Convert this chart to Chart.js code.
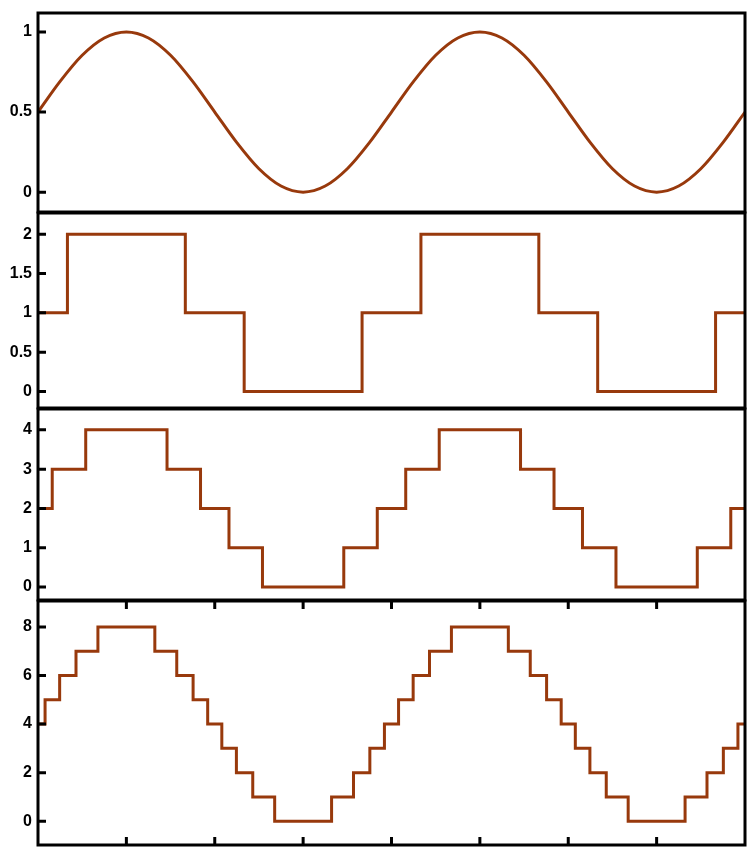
<!DOCTYPE html>
<html>
<head>
<meta charset="utf-8">
<script src="https://cdn.jsdelivr.net/npm/chart.js@4"></script>
<style>
  body { margin: 0; background: #fff; width: 754px; height: 852px; position: relative; overflow: hidden; }
  .panel { position: absolute; left: 0; width: 747px; }
</style>
</head>
<body>
<div class="panel" style="top:11px;height:203px"><canvas id="c1"></canvas></div>
<div class="panel" style="top:211px;height:199px"><canvas id="c2"></canvas></div>
<div class="panel" style="top:407px;height:195px"><canvas id="c3"></canvas></div>
<div class="panel" style="top:599px;height:248px"><canvas id="c4"></canvas></div>
<script>
// x in units of a quarter period (0..8 = two periods)
const sineX = [0,0.5,1,1.5,2,2.5,3,3.5,4,4.5,5,5.5,6,6.5,7,7.5,8,8.5,9,9.5,10,10.5,11,11.5,12,12.5,13,13.5,14,14.5,15,15.5,16].map(v => v / 2);
const sineY = [0.5,0.691,0.854,0.962,1,0.962,0.854,0.691,0.5,0.309,0.146,0.038,0,0.038,0.146,0.309,
               0.5,0.691,0.854,0.962,1,0.962,0.854,0.691,0.5,0.309,0.146,0.038,0,0.038,0.146,0.309,0.5];

const step2X = [0,0.333,1.667,2.333,3.667,4.333,5.667,6.333,7.667,8];
const step2Y = [1,2,1,0,1,2,1,0,1,1];

const step3X = [0,0.161,0.540,1.460,1.839,2.161,2.540,3.460,3.839,4.161,4.540,5.460,5.839,6.161,6.540,7.460,7.839,8];
const step3Y = [2,3,4,3,2,1,0,1,2,3,4,3,2,1,0,1,2,2];

const step4X = [0,0.080,0.245,0.430,0.678,1.322,1.570,1.755,1.920,2.080,2.245,2.430,2.678,3.322,3.570,3.755,3.920,
                4.080,4.245,4.430,4.678,5.322,5.570,5.755,5.920,6.080,6.245,6.430,6.678,7.322,7.570,7.755,7.920,8];
const step4Y = [4,5,6,7,8,7,6,5,4,3,2,1,0,1,2,3,4,5,6,7,8,7,6,5,4,3,2,1,0,1,2,3,4,4];

const xTicks = [1,2,3,4,5,6,7];
const lineColor = '#98390c';

// frame, inward tick marks and y labels
const framePlugin = {
    id: 'frame',
    afterDraw(chart, args, opts) {
        const ctx = chart.ctx, a = chart.chartArea;
        const xs = chart.scales.x, ys = chart.scales.y;
        ctx.save();
        ctx.strokeStyle = '#000';
        ctx.lineWidth = 3;
        ctx.strokeRect(a.left, a.top, a.right - a.left, a.bottom - a.top);
        ctx.fillStyle = '#000';
        ctx.font = 'bold 16px "Liberation Sans", Arial';
        ctx.textAlign = 'right';
        ctx.textBaseline = 'middle';
        ctx.beginPath();
        ys.ticks.forEach(t => {
            const y = ys.getPixelForValue(t.value);
            ctx.moveTo(a.left, y); ctx.lineTo(a.left + 8, y);
            ctx.fillText(String(t.value), a.left - 6, y);
        });
        if (opts.xTicks) {
            xTicks.forEach(v => {
                const x = xs.getPixelForValue(v);
                ctx.moveTo(x, a.top); ctx.lineTo(x, a.top + 8);
                ctx.moveTo(x, a.bottom); ctx.lineTo(x, a.bottom - 8);
            });
        }
        ctx.stroke();
        ctx.restore();
    }
};

function makeChart(id, xs, ys, stepped, yMin, yMax, yStep, showX) {
    new Chart(document.getElementById(id), {
        type: 'line',
        data: {
            datasets: [{
                data: xs.map((x, i) => ({ x: x, y: ys[i] })),
                borderColor: lineColor,
                borderWidth: 3,
                pointRadius: 0,
                fill: false,
                stepped: stepped ? 'before' : false,
                tension: stepped ? 0 : 0.4,
                cubicInterpolationMode: stepped ? 'default' : 'monotone'
            }]
        },
        options: {
            responsive: true,
            maintainAspectRatio: false,
            animation: false,
            events: [],
            layout: { padding: { top: 2, right: 2, bottom: 2, left: 0 } },
            plugins: { legend: { display: false }, tooltip: { enabled: false }, frame: { xTicks: showX } },
            scales: {
                x: { type: 'linear', min: 0, max: 8, display: false },
                y: {
                    min: yMin, max: yMax,
                    afterFit: s => { s.width = 38; },
                    afterBuildTicks: s => {
                        const t = [];
                        for (let v = 0; v <= yMax + 1e-9; v += yStep) t.push({ value: +v.toFixed(3) });
                        s.ticks = t;
                    },
                    grid: { display: false, drawTicks: false },
                    border: { display: false },
                    ticks: { display: false }
                }
            }
        },
        plugins: [framePlugin]
    });
}

makeChart('c1', sineX, sineY, false, -0.124, 1.118, 0.5, false);
makeChart('c2', step2X, step2Y, true, -0.21, 2.27, 0.5, false);
makeChart('c3', step3X, step3Y, true, -0.33, 4.53, 1, false);
makeChart('c4', step4X, step4Y, true, -0.98, 9.07, 2, true);
</script>
</body>
</html>
